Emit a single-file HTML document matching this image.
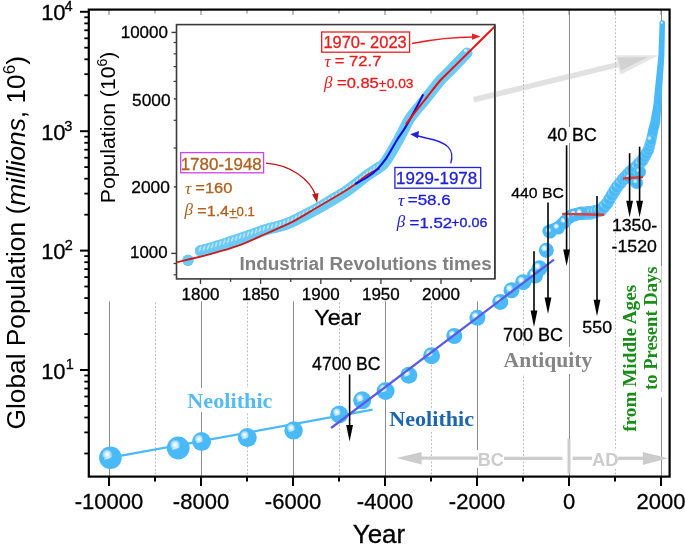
<!DOCTYPE html><html><head><meta charset="utf-8"><style>html,body{margin:0;padding:0;background:#fff;}svg{display:block;will-change:transform}</style></head><body>
<svg width="685" height="544" viewBox="0 0 685 544">
<defs>
<radialGradient id="hl" cx="0.5" cy="0.5" r="0.5">
<stop offset="0" stop-color="#ffffff"/>
<stop offset="0.18" stop-color="#f4fbff"/>
<stop offset="0.4" stop-color="#cfeefd"/>
<stop offset="0.72" stop-color="#a2dbfa" stop-opacity="0.9"/>
<stop offset="1" stop-color="#4ab9f7" stop-opacity="0"/>
</radialGradient>
</defs>
<rect width="685" height="544" fill="#ffffff"/>
<line x1="109.5" y1="10" x2="109.5" y2="476" stroke="#8c8c8c" stroke-width="1"/>
<line x1="155.5" y1="10" x2="155.5" y2="476" stroke="#c0c0c0" stroke-width="1" stroke-dasharray="2,1.7"/>
<line x1="201.5" y1="10" x2="201.5" y2="476" stroke="#8c8c8c" stroke-width="1"/>
<line x1="247.5" y1="10" x2="247.5" y2="476" stroke="#c0c0c0" stroke-width="1" stroke-dasharray="2,1.7"/>
<line x1="293.5" y1="10" x2="293.5" y2="476" stroke="#8c8c8c" stroke-width="1"/>
<line x1="339.5" y1="10" x2="339.5" y2="476" stroke="#c0c0c0" stroke-width="1" stroke-dasharray="2,1.7"/>
<line x1="385.5" y1="10" x2="385.5" y2="476" stroke="#8c8c8c" stroke-width="1"/>
<line x1="431.5" y1="10" x2="431.5" y2="476" stroke="#c0c0c0" stroke-width="1" stroke-dasharray="2,1.7"/>
<line x1="477.5" y1="10" x2="477.5" y2="476" stroke="#8c8c8c" stroke-width="1"/>
<line x1="523.5" y1="10" x2="523.5" y2="476" stroke="#c0c0c0" stroke-width="1" stroke-dasharray="2,1.7"/>
<line x1="569.5" y1="10" x2="569.5" y2="476" stroke="#8c8c8c" stroke-width="1"/>
<line x1="615.5" y1="10" x2="615.5" y2="476" stroke="#c0c0c0" stroke-width="1" stroke-dasharray="2,1.7"/>
<line x1="661.5" y1="10" x2="661.5" y2="476" stroke="#8c8c8c" stroke-width="1"/>
<rect x="90" y="11" width="410" height="290.3" fill="#ffffff"/>
<rect x="186" y="388" width="88" height="24" fill="#ffffff"/>
<rect x="388" y="409" width="88" height="21" fill="#ffffff"/>
<rect x="502" y="347" width="92" height="27" fill="#ffffff"/>
<rect x="310" y="355" width="72" height="17" fill="#ffffff"/>
<rect x="545" y="127" width="53" height="16" fill="#ffffff"/>
<rect x="476" y="450" width="30" height="18" fill="#ffffff"/>
<rect x="590" y="450" width="30" height="18" fill="#ffffff"/>
<line x1="109.0" y1="10" x2="109.0" y2="15" stroke="#909090" stroke-width="1.2"/>
<line x1="155.0" y1="10" x2="155.0" y2="13.5" stroke="#909090" stroke-width="1.2"/>
<line x1="201.0" y1="10" x2="201.0" y2="15" stroke="#909090" stroke-width="1.2"/>
<line x1="247.0" y1="10" x2="247.0" y2="13.5" stroke="#909090" stroke-width="1.2"/>
<line x1="293.0" y1="10" x2="293.0" y2="15" stroke="#909090" stroke-width="1.2"/>
<line x1="339.0" y1="10" x2="339.0" y2="13.5" stroke="#909090" stroke-width="1.2"/>
<line x1="385.0" y1="10" x2="385.0" y2="15" stroke="#909090" stroke-width="1.2"/>
<line x1="431.0" y1="10" x2="431.0" y2="13.5" stroke="#909090" stroke-width="1.2"/>
<line x1="477.0" y1="10" x2="477.0" y2="15" stroke="#909090" stroke-width="1.2"/>
<line x1="523.0" y1="10" x2="523.0" y2="13.5" stroke="#909090" stroke-width="1.2"/>
<line x1="569.0" y1="10" x2="569.0" y2="15" stroke="#909090" stroke-width="1.2"/>
<line x1="615.0" y1="10" x2="615.0" y2="13.5" stroke="#909090" stroke-width="1.2"/>
<line x1="661.0" y1="10" x2="661.0" y2="15" stroke="#909090" stroke-width="1.2"/>
<line x1="110.4" y1="457.7" x2="372.6" y2="409.7" stroke="#4ab9f7" stroke-width="2.2"/>
<circle cx="110.4" cy="457.7" r="11.3" fill="#4ab9f7"/>
<circle cx="107.2" cy="454.5" r="5.7" fill="url(#hl)"/>
<path d="M104.2,459.1 Q108.1,457.9 111.5,456.3" fill="none" stroke="#d8f1fd" stroke-width="1.36" opacity="0.7"/>
<circle cx="178.2" cy="448.0" r="11.4" fill="#4ab9f7"/>
<circle cx="175.0" cy="444.8" r="5.7" fill="url(#hl)"/>
<path d="M171.9,449.4 Q175.9,448.2 179.3,446.6" fill="none" stroke="#d8f1fd" stroke-width="1.37" opacity="0.7"/>
<circle cx="201.6" cy="441.6" r="9.5" fill="#4ab9f7"/>
<circle cx="198.9" cy="438.9" r="4.8" fill="url(#hl)"/>
<path d="M196.4,442.7 Q199.7,441.8 202.5,440.5" fill="none" stroke="#d8f1fd" stroke-width="1.14" opacity="0.7"/>
<circle cx="247.3" cy="437.6" r="9.5" fill="#4ab9f7"/>
<circle cx="244.6" cy="434.9" r="4.8" fill="url(#hl)"/>
<path d="M242.1,438.7 Q245.4,437.8 248.2,436.5" fill="none" stroke="#d8f1fd" stroke-width="1.14" opacity="0.7"/>
<circle cx="293.6" cy="430.4" r="9.2" fill="#4ab9f7"/>
<circle cx="291.0" cy="427.8" r="4.6" fill="url(#hl)"/>
<path d="M288.5,431.5 Q291.8,430.6 294.5,429.3" fill="none" stroke="#d8f1fd" stroke-width="1.10" opacity="0.7"/>
<circle cx="339.3" cy="414.5" r="9.0" fill="#4ab9f7"/>
<circle cx="336.8" cy="412.0" r="4.5" fill="url(#hl)"/>
<path d="M334.4,415.6 Q337.5,414.7 340.2,413.4" fill="none" stroke="#d8f1fd" stroke-width="1.08" opacity="0.7"/>
<circle cx="362.2" cy="400.3" r="9.0" fill="#4ab9f7"/>
<circle cx="359.7" cy="397.8" r="4.5" fill="url(#hl)"/>
<path d="M357.2,401.4 Q360.4,400.5 363.1,399.2" fill="none" stroke="#d8f1fd" stroke-width="1.08" opacity="0.7"/>
<circle cx="385.6" cy="391.0" r="9.0" fill="#4ab9f7"/>
<circle cx="383.1" cy="388.5" r="4.5" fill="url(#hl)"/>
<path d="M380.7,392.1 Q383.8,391.2 386.5,389.9" fill="none" stroke="#d8f1fd" stroke-width="1.08" opacity="0.7"/>
<circle cx="408.8" cy="375.3" r="8.5" fill="#4ab9f7"/>
<circle cx="406.4" cy="372.9" r="4.2" fill="url(#hl)"/>
<path d="M404.1,376.3 Q407.1,375.5 409.7,374.3" fill="none" stroke="#d8f1fd" stroke-width="1.02" opacity="0.7"/>
<circle cx="431.6" cy="355.7" r="8.5" fill="#4ab9f7"/>
<circle cx="429.2" cy="353.3" r="4.2" fill="url(#hl)"/>
<path d="M426.9,356.7 Q429.9,355.9 432.5,354.7" fill="none" stroke="#d8f1fd" stroke-width="1.02" opacity="0.7"/>
<circle cx="454.3" cy="336.0" r="8.0" fill="#4ab9f7"/>
<circle cx="452.1" cy="333.8" r="4.0" fill="url(#hl)"/>
<path d="M449.9,337.0 Q452.7,336.2 455.1,335.0" fill="none" stroke="#d8f1fd" stroke-width="0.96" opacity="0.7"/>
<circle cx="477.4" cy="317.8" r="8.0" fill="#4ab9f7"/>
<circle cx="475.2" cy="315.6" r="4.0" fill="url(#hl)"/>
<path d="M473.0,318.8 Q475.8,318.0 478.2,316.8" fill="none" stroke="#d8f1fd" stroke-width="0.96" opacity="0.7"/>
<circle cx="500.3" cy="301.9" r="8.0" fill="#4ab9f7"/>
<circle cx="498.1" cy="299.7" r="4.0" fill="url(#hl)"/>
<path d="M495.9,302.9 Q498.7,302.1 501.1,300.9" fill="none" stroke="#d8f1fd" stroke-width="0.96" opacity="0.7"/>
<circle cx="511.5" cy="290.3" r="8.0" fill="#4ab9f7"/>
<circle cx="509.3" cy="288.1" r="4.0" fill="url(#hl)"/>
<path d="M507.1,291.3 Q509.9,290.5 512.3,289.3" fill="none" stroke="#d8f1fd" stroke-width="0.96" opacity="0.7"/>
<circle cx="523.2" cy="282.2" r="8.0" fill="#4ab9f7"/>
<circle cx="521.0" cy="280.0" r="4.0" fill="url(#hl)"/>
<path d="M518.8,283.2 Q521.6,282.4 524.0,281.2" fill="none" stroke="#d8f1fd" stroke-width="0.96" opacity="0.7"/>
<circle cx="535.0" cy="275.6" r="8.0" fill="#4ab9f7"/>
<circle cx="532.8" cy="273.4" r="4.0" fill="url(#hl)"/>
<path d="M530.6,276.6 Q533.4,275.8 535.8,274.6" fill="none" stroke="#d8f1fd" stroke-width="0.96" opacity="0.7"/>
<circle cx="539.5" cy="268.3" r="8.0" fill="#4ab9f7"/>
<circle cx="537.3" cy="266.1" r="4.0" fill="url(#hl)"/>
<path d="M535.1,269.3 Q537.9,268.5 540.3,267.3" fill="none" stroke="#d8f1fd" stroke-width="0.96" opacity="0.7"/>
<circle cx="546.3" cy="250.2" r="7.5" fill="#4ab9f7"/>
<circle cx="544.2" cy="248.1" r="3.8" fill="url(#hl)"/>
<path d="M542.2,251.1 Q544.8,250.3 547.0,249.3" fill="none" stroke="#d8f1fd" stroke-width="0.90" opacity="0.7"/>
<line x1="331.1" y1="428" x2="554" y2="259.6" stroke="#5a5ae6" stroke-width="2.2"/>
<path d="M550.4,236.6 L560.9,232.6 L568.8,225.5 L574.6,220.4 L581.3,220.0 L592.1,219.5 L604.3,215.6 L611.8,207.0 L617.1,198.1 L621.9,190.5 L627.5,183.4 L634.1,176.4 L640.5,172.2 L647.4,163.5 L653.4,152.2 L656.1,141.2 L658.1,131.1 L660.2,123.1 L661.3,106.4 L662.3,86.2 L664.4,55.7 L665.0,23.2 L659.6,23.0 L658.4,55.3 L655.3,85.6 L653.3,105.6 L650.4,121.5 L648.3,128.9 L646.3,138.8 L643.4,147.8 L637.6,156.5 L631.5,162.8 L625.9,167.6 L618.5,175.6 L612.1,183.5 L606.9,191.9 L602.2,200.0 L597.7,204.4 L589.9,206.1 L579.9,207.0 L569.4,209.6 L560.8,216.5 L554.7,222.4 L546.2,225.4 Z" fill="#4ab9f7"/>
<circle cx="548.3" cy="231.0" r="6.0" fill="#4ab9f7"/>
<circle cx="662.3" cy="23.1" r="2.8" fill="#4ab9f7"/>
<circle cx="636" cy="182" r="6.5" fill="#4ab9f7"/>
<circle cx="661.8" cy="22.6" r="1.2" fill="#ffffff" opacity="0.85"/>
<circle cx="548.3" cy="231.0" r="5.0" fill="#4ab9f7"/>
<circle cx="546.8" cy="229.5" r="2.5" fill="url(#hl)"/>
<circle cx="557.8" cy="227.5" r="5.5" fill="#4ab9f7"/>
<circle cx="556.3" cy="226.0" r="2.8" fill="url(#hl)"/>
<circle cx="565.0" cy="220.5" r="5.5" fill="#4ab9f7"/>
<circle cx="563.5" cy="219.0" r="2.8" fill="url(#hl)"/>
<circle cx="572.0" cy="214.5" r="5.5" fill="#4ab9f7"/>
<circle cx="570.5" cy="213.0" r="2.8" fill="url(#hl)"/>
<circle cx="580.6" cy="212.0" r="5.5" fill="#4ab9f7"/>
<circle cx="579.1" cy="210.5" r="2.8" fill="url(#hl)"/>
<circle cx="589.0" cy="211.5" r="5.5" fill="#4ab9f7"/>
<circle cx="587.5" cy="210.0" r="2.8" fill="url(#hl)"/>
<circle cx="580.6" cy="213.5" r="6.2" fill="#4ab9f7" stroke="#8ad4fa" stroke-width="0.5"/>
<circle cx="578.8" cy="211.7" r="2.6" fill="url(#hl)" opacity="0.8"/>
<circle cx="584.1" cy="213.3" r="6.2" fill="#4ab9f7" stroke="#8ad4fa" stroke-width="0.5"/>
<circle cx="582.3" cy="211.5" r="2.6" fill="url(#hl)" opacity="0.8"/>
<circle cx="587.5" cy="213.0" r="6.2" fill="#4ab9f7" stroke="#8ad4fa" stroke-width="0.5"/>
<circle cx="585.7" cy="211.2" r="2.6" fill="url(#hl)" opacity="0.8"/>
<circle cx="591.0" cy="212.8" r="6.2" fill="#4ab9f7" stroke="#8ad4fa" stroke-width="0.5"/>
<circle cx="589.2" cy="211.0" r="2.6" fill="url(#hl)" opacity="0.8"/>
<circle cx="594.3" cy="211.9" r="6.2" fill="#4ab9f7" stroke="#8ad4fa" stroke-width="0.5"/>
<circle cx="592.5" cy="210.1" r="2.6" fill="url(#hl)" opacity="0.8"/>
<circle cx="597.7" cy="210.9" r="6.2" fill="#4ab9f7" stroke="#8ad4fa" stroke-width="0.5"/>
<circle cx="595.9" cy="209.1" r="2.6" fill="url(#hl)" opacity="0.8"/>
<circle cx="601.0" cy="210.0" r="6.2" fill="#4ab9f7" stroke="#8ad4fa" stroke-width="0.5"/>
<circle cx="599.2" cy="208.2" r="2.6" fill="url(#hl)" opacity="0.8"/>
<circle cx="604.0" cy="206.8" r="6.2" fill="#4ab9f7" stroke="#8ad4fa" stroke-width="0.5"/>
<circle cx="602.2" cy="204.9" r="2.6" fill="url(#hl)" opacity="0.8"/>
<circle cx="607.0" cy="203.5" r="6.0" fill="#4ab9f7" stroke="#8ad4fa" stroke-width="0.5"/>
<circle cx="605.2" cy="201.7" r="2.6" fill="url(#hl)" opacity="0.8"/>
<circle cx="609.5" cy="199.2" r="6.0" fill="#4ab9f7" stroke="#8ad4fa" stroke-width="0.5"/>
<circle cx="607.7" cy="197.4" r="2.6" fill="url(#hl)" opacity="0.8"/>
<circle cx="612.0" cy="195.0" r="6.0" fill="#4ab9f7" stroke="#8ad4fa" stroke-width="0.5"/>
<circle cx="610.2" cy="193.2" r="2.6" fill="url(#hl)" opacity="0.8"/>
<circle cx="614.5" cy="191.0" r="6.0" fill="#4ab9f7" stroke="#8ad4fa" stroke-width="0.5"/>
<circle cx="612.7" cy="189.2" r="2.6" fill="url(#hl)" opacity="0.8"/>
<circle cx="617.0" cy="187.0" r="6.0" fill="#4ab9f7" stroke="#8ad4fa" stroke-width="0.5"/>
<circle cx="615.2" cy="185.2" r="2.6" fill="url(#hl)" opacity="0.8"/>
<circle cx="620.0" cy="183.2" r="6.0" fill="#4ab9f7" stroke="#8ad4fa" stroke-width="0.5"/>
<circle cx="618.2" cy="181.4" r="2.6" fill="url(#hl)" opacity="0.8"/>
<circle cx="623.0" cy="179.5" r="6.0" fill="#4ab9f7" stroke="#8ad4fa" stroke-width="0.5"/>
<circle cx="621.2" cy="177.7" r="2.6" fill="url(#hl)" opacity="0.8"/>
<circle cx="625.3" cy="177.0" r="6.0" fill="#4ab9f7" stroke="#8ad4fa" stroke-width="0.5"/>
<circle cx="623.5" cy="175.2" r="2.6" fill="url(#hl)" opacity="0.8"/>
<circle cx="627.7" cy="174.5" r="6.0" fill="#4ab9f7" stroke="#8ad4fa" stroke-width="0.5"/>
<circle cx="625.9" cy="172.7" r="2.6" fill="url(#hl)" opacity="0.8"/>
<circle cx="630.0" cy="172.0" r="6.0" fill="#4ab9f7" stroke="#8ad4fa" stroke-width="0.5"/>
<circle cx="628.2" cy="170.2" r="2.6" fill="url(#hl)" opacity="0.8"/>
<circle cx="633.0" cy="169.8" r="6.2" fill="#4ab9f7" stroke="#8ad4fa" stroke-width="0.5"/>
<circle cx="631.2" cy="167.9" r="2.6" fill="url(#hl)" opacity="0.8"/>
<circle cx="636.0" cy="167.5" r="6.2" fill="#4ab9f7" stroke="#8ad4fa" stroke-width="0.5"/>
<circle cx="634.2" cy="165.7" r="2.6" fill="url(#hl)" opacity="0.8"/>
<circle cx="639.2" cy="163.8" r="6.2" fill="#4ab9f7" stroke="#8ad4fa" stroke-width="0.5"/>
<circle cx="637.5" cy="161.9" r="2.6" fill="url(#hl)" opacity="0.8"/>
<circle cx="642.5" cy="160.0" r="6.0" fill="#4ab9f7" stroke="#8ad4fa" stroke-width="0.5"/>
<circle cx="640.7" cy="158.2" r="2.6" fill="url(#hl)" opacity="0.8"/>
<circle cx="644.5" cy="156.7" r="5.8" fill="#4ab9f7" stroke="#8ad4fa" stroke-width="0.5"/>
<circle cx="642.7" cy="154.9" r="2.6" fill="url(#hl)" opacity="0.8"/>
<circle cx="646.4" cy="153.3" r="5.7" fill="#4ab9f7" stroke="#8ad4fa" stroke-width="0.5"/>
<circle cx="644.6" cy="151.5" r="2.6" fill="url(#hl)" opacity="0.8"/>
<circle cx="648.4" cy="150.0" r="5.5" fill="#4ab9f7" stroke="#8ad4fa" stroke-width="0.5"/>
<circle cx="646.6" cy="148.2" r="2.6" fill="url(#hl)" opacity="0.8"/>
<circle cx="649.3" cy="146.7" r="5.3" fill="#4ab9f7" stroke="#8ad4fa" stroke-width="0.5"/>
<circle cx="647.5" cy="144.9" r="2.6" fill="url(#hl)" opacity="0.8"/>
<circle cx="650.3" cy="143.3" r="5.2" fill="#4ab9f7" stroke="#8ad4fa" stroke-width="0.5"/>
<circle cx="648.5" cy="141.5" r="2.6" fill="url(#hl)" opacity="0.8"/>
<circle cx="651.2" cy="140.0" r="5.0" fill="#4ab9f7" stroke="#8ad4fa" stroke-width="0.5"/>
<circle cx="649.4" cy="138.2" r="2.6" fill="url(#hl)" opacity="0.8"/>
<circle cx="630.0" cy="178.0" r="6.0" fill="#4ab9f7" stroke="#8ad4fa" stroke-width="0.5"/>
<circle cx="628.2" cy="176.2" r="2.6" fill="url(#hl)" opacity="0.8"/>
<circle cx="637.0" cy="183.0" r="6.0" fill="#4ab9f7" stroke="#8ad4fa" stroke-width="0.5"/>
<circle cx="635.2" cy="181.2" r="2.6" fill="url(#hl)" opacity="0.8"/>
<circle cx="640.0" cy="172.0" r="6.0" fill="#4ab9f7" stroke="#8ad4fa" stroke-width="0.5"/>
<circle cx="638.2" cy="170.2" r="2.6" fill="url(#hl)" opacity="0.8"/>
<circle cx="550.0" cy="232.0" r="6.6" fill="#4ab9f7"/>
<circle cx="548.2" cy="230.2" r="3.3" fill="url(#hl)"/>
<circle cx="558.0" cy="228.0" r="6.6" fill="#4ab9f7"/>
<circle cx="556.2" cy="226.2" r="3.3" fill="url(#hl)"/>
<circle cx="565.0" cy="222.0" r="6.4" fill="#4ab9f7"/>
<circle cx="563.2" cy="220.2" r="3.2" fill="url(#hl)"/>
<circle cx="570.0" cy="217.0" r="6.4" fill="#4ab9f7"/>
<circle cx="568.2" cy="215.2" r="3.2" fill="url(#hl)"/>
<circle cx="575.0" cy="215.0" r="6.4" fill="#4ab9f7"/>
<circle cx="573.2" cy="213.2" r="3.2" fill="url(#hl)"/>
<circle cx="580.9" cy="213.5" r="6.4" fill="#4ab9f7"/>
<circle cx="579.1" cy="211.7" r="3.2" fill="url(#hl)"/>
<line x1="562.2" y1="213.9" x2="604.2" y2="214.8" stroke="#dd3c3c" stroke-width="2.4"/>
<line x1="623" y1="178.5" x2="643" y2="177" stroke="#dd3c3c" stroke-width="2.4"/>
<line x1="349.6" y1="374.4" x2="349.6" y2="427.0" stroke="#000" stroke-width="1.6"/>
<path d="M346.20000000000005,425.0 L353.0,425.0 L349.6,441.5 Z" fill="#000"/>
<line x1="534" y1="251.2" x2="534" y2="312.5" stroke="#000" stroke-width="1.6"/>
<path d="M530.6,310.5 L537.4,310.5 L534,327.0 Z" fill="#000"/>
<line x1="548" y1="202.4" x2="548" y2="299.5" stroke="#000" stroke-width="1.6"/>
<path d="M544.6,297.5 L551.4,297.5 L548,314.0 Z" fill="#000"/>
<line x1="566.6" y1="145.3" x2="566.6" y2="251.39999999999998" stroke="#000" stroke-width="1.6"/>
<path d="M563.2,249.39999999999998 L570.0,249.39999999999998 L566.6,265.9 Z" fill="#000"/>
<line x1="597" y1="196" x2="597" y2="301.8" stroke="#000" stroke-width="1.6"/>
<path d="M593.6,299.8 L600.4,299.8 L597,316.3 Z" fill="#000"/>
<line x1="629.6" y1="153.2" x2="629.6" y2="202.7" stroke="#000" stroke-width="1.6"/>
<path d="M626.2,200.7 L633.0,200.7 L629.6,217.2 Z" fill="#000"/>
<line x1="639.6" y1="146.7" x2="639.6" y2="202.7" stroke="#000" stroke-width="1.6"/>
<path d="M636.2,200.7 L643.0,200.7 L639.6,217.2 Z" fill="#000"/>
<line x1="420" y1="458.1" x2="478" y2="458.1" stroke="#cccccc" stroke-width="3.3"/>
<path d="M396.4,458.1 L421.6,451.9 L421.6,464.4 Z" fill="#cccccc"/>
<line x1="504" y1="458.3" x2="562.4" y2="458.3" stroke="#cccccc" stroke-width="3.3"/>
<line x1="569" y1="438.8" x2="569" y2="473.8" stroke="#cccccc" stroke-width="3"/>
<line x1="572.7" y1="458.3" x2="592" y2="458.3" stroke="#cccccc" stroke-width="3.3"/>
<line x1="618" y1="458.3" x2="644" y2="458.3" stroke="#cccccc" stroke-width="3.3"/>
<path d="M668,458.3 L642.8,451.9 L642.8,465 Z" fill="#cccccc"/>
<rect x="88.8" y="9.6" width="580.8" height="467" fill="none" stroke="#000" stroke-width="2.2"/>
<line x1="84.3" y1="453.5" x2="89" y2="453.5" stroke="#000" stroke-width="1.8"/>
<line x1="84.3" y1="432.4" x2="89" y2="432.4" stroke="#000" stroke-width="1.8"/>
<line x1="84.3" y1="417.5" x2="89" y2="417.5" stroke="#000" stroke-width="1.8"/>
<line x1="84.3" y1="405.9" x2="89" y2="405.9" stroke="#000" stroke-width="1.8"/>
<line x1="84.3" y1="396.5" x2="89" y2="396.5" stroke="#000" stroke-width="1.8"/>
<line x1="84.3" y1="388.5" x2="89" y2="388.5" stroke="#000" stroke-width="1.8"/>
<line x1="84.3" y1="381.6" x2="89" y2="381.6" stroke="#000" stroke-width="1.8"/>
<line x1="84.3" y1="375.5" x2="89" y2="375.5" stroke="#000" stroke-width="1.8"/>
<line x1="80" y1="370.0" x2="89" y2="370.0" stroke="#000" stroke-width="2"/>
<line x1="84.3" y1="334.1" x2="89" y2="334.1" stroke="#000" stroke-width="1.8"/>
<line x1="84.3" y1="313.0" x2="89" y2="313.0" stroke="#000" stroke-width="1.8"/>
<line x1="84.3" y1="298.1" x2="89" y2="298.1" stroke="#000" stroke-width="1.8"/>
<line x1="84.3" y1="286.5" x2="89" y2="286.5" stroke="#000" stroke-width="1.8"/>
<line x1="84.3" y1="277.1" x2="89" y2="277.1" stroke="#000" stroke-width="1.8"/>
<line x1="84.3" y1="269.1" x2="89" y2="269.1" stroke="#000" stroke-width="1.8"/>
<line x1="84.3" y1="262.2" x2="89" y2="262.2" stroke="#000" stroke-width="1.8"/>
<line x1="84.3" y1="256.1" x2="89" y2="256.1" stroke="#000" stroke-width="1.8"/>
<line x1="80" y1="250.6" x2="89" y2="250.6" stroke="#000" stroke-width="2"/>
<line x1="84.3" y1="214.7" x2="89" y2="214.7" stroke="#000" stroke-width="1.8"/>
<line x1="84.3" y1="193.6" x2="89" y2="193.6" stroke="#000" stroke-width="1.8"/>
<line x1="84.3" y1="178.7" x2="89" y2="178.7" stroke="#000" stroke-width="1.8"/>
<line x1="84.3" y1="167.1" x2="89" y2="167.1" stroke="#000" stroke-width="1.8"/>
<line x1="84.3" y1="157.7" x2="89" y2="157.7" stroke="#000" stroke-width="1.8"/>
<line x1="84.3" y1="149.7" x2="89" y2="149.7" stroke="#000" stroke-width="1.8"/>
<line x1="84.3" y1="142.8" x2="89" y2="142.8" stroke="#000" stroke-width="1.8"/>
<line x1="84.3" y1="136.7" x2="89" y2="136.7" stroke="#000" stroke-width="1.8"/>
<line x1="80" y1="131.2" x2="89" y2="131.2" stroke="#000" stroke-width="2"/>
<line x1="84.3" y1="95.3" x2="89" y2="95.3" stroke="#000" stroke-width="1.8"/>
<line x1="84.3" y1="74.2" x2="89" y2="74.2" stroke="#000" stroke-width="1.8"/>
<line x1="84.3" y1="59.3" x2="89" y2="59.3" stroke="#000" stroke-width="1.8"/>
<line x1="84.3" y1="47.7" x2="89" y2="47.7" stroke="#000" stroke-width="1.8"/>
<line x1="84.3" y1="38.3" x2="89" y2="38.3" stroke="#000" stroke-width="1.8"/>
<line x1="84.3" y1="30.3" x2="89" y2="30.3" stroke="#000" stroke-width="1.8"/>
<line x1="84.3" y1="23.4" x2="89" y2="23.4" stroke="#000" stroke-width="1.8"/>
<line x1="84.3" y1="17.3" x2="89" y2="17.3" stroke="#000" stroke-width="1.8"/>
<line x1="80" y1="11.8" x2="89" y2="11.8" stroke="#000" stroke-width="2"/>
<line x1="109.0" y1="476.6" x2="109.0" y2="486.1" stroke="#000" stroke-width="2"/>
<line x1="155.0" y1="476.6" x2="155.0" y2="481.6" stroke="#000" stroke-width="2"/>
<line x1="201.0" y1="476.6" x2="201.0" y2="486.1" stroke="#000" stroke-width="2"/>
<line x1="247.0" y1="476.6" x2="247.0" y2="481.6" stroke="#000" stroke-width="2"/>
<line x1="293.0" y1="476.6" x2="293.0" y2="486.1" stroke="#000" stroke-width="2"/>
<line x1="339.0" y1="476.6" x2="339.0" y2="481.6" stroke="#000" stroke-width="2"/>
<line x1="385.0" y1="476.6" x2="385.0" y2="486.1" stroke="#000" stroke-width="2"/>
<line x1="431.0" y1="476.6" x2="431.0" y2="481.6" stroke="#000" stroke-width="2"/>
<line x1="477.0" y1="476.6" x2="477.0" y2="486.1" stroke="#000" stroke-width="2"/>
<line x1="523.0" y1="476.6" x2="523.0" y2="481.6" stroke="#000" stroke-width="2"/>
<line x1="569.0" y1="476.6" x2="569.0" y2="486.1" stroke="#000" stroke-width="2"/>
<line x1="615.0" y1="476.6" x2="615.0" y2="481.6" stroke="#000" stroke-width="2"/>
<line x1="661.0" y1="476.6" x2="661.0" y2="486.1" stroke="#000" stroke-width="2"/>
<rect x="176.5" y="24.6" width="318.3" height="254.3" fill="#fff" stroke="#3a3a3a" stroke-width="1.6"/>
<line x1="171.5" y1="32.4" x2="176.5" y2="32.4" stroke="#3a3a3a" stroke-width="1.4"/>
<line x1="173.9" y1="98.9" x2="176.5" y2="98.9" stroke="#3a3a3a" stroke-width="1.4"/>
<line x1="173.9" y1="186.9" x2="176.5" y2="186.9" stroke="#3a3a3a" stroke-width="1.4"/>
<line x1="171.2" y1="253.4" x2="176.5" y2="253.4" stroke="#3a3a3a" stroke-width="1.4"/>
<line x1="173.6" y1="42.5" x2="176.5" y2="42.5" stroke="#3a3a3a" stroke-width="1.2"/>
<line x1="173.6" y1="53.8" x2="176.5" y2="53.8" stroke="#3a3a3a" stroke-width="1.2"/>
<line x1="173.6" y1="66.6" x2="176.5" y2="66.6" stroke="#3a3a3a" stroke-width="1.2"/>
<line x1="173.6" y1="81.4" x2="176.5" y2="81.4" stroke="#3a3a3a" stroke-width="1.2"/>
<line x1="173.6" y1="120.3" x2="176.5" y2="120.3" stroke="#3a3a3a" stroke-width="1.2"/>
<line x1="173.6" y1="148.0" x2="176.5" y2="148.0" stroke="#3a3a3a" stroke-width="1.2"/>
<line x1="173.6" y1="263.5" x2="176.5" y2="263.5" stroke="#3a3a3a" stroke-width="1.2"/>
<line x1="173.6" y1="274.8" x2="176.5" y2="274.8" stroke="#3a3a3a" stroke-width="1.2"/>
<line x1="200.5" y1="278.9" x2="200.5" y2="283.9" stroke="#3a3a3a" stroke-width="1.3"/>
<line x1="230.6" y1="278.9" x2="230.6" y2="281.9" stroke="#3a3a3a" stroke-width="1.3"/>
<line x1="260.6" y1="278.9" x2="260.6" y2="283.9" stroke="#3a3a3a" stroke-width="1.3"/>
<line x1="290.7" y1="278.9" x2="290.7" y2="281.9" stroke="#3a3a3a" stroke-width="1.3"/>
<line x1="320.8" y1="278.9" x2="320.8" y2="283.9" stroke="#3a3a3a" stroke-width="1.3"/>
<line x1="350.8" y1="278.9" x2="350.8" y2="281.9" stroke="#3a3a3a" stroke-width="1.3"/>
<line x1="380.9" y1="278.9" x2="380.9" y2="283.9" stroke="#3a3a3a" stroke-width="1.3"/>
<line x1="410.9" y1="278.9" x2="410.9" y2="281.9" stroke="#3a3a3a" stroke-width="1.3"/>
<line x1="441.0" y1="278.9" x2="441.0" y2="283.9" stroke="#3a3a3a" stroke-width="1.3"/>
<line x1="471.1" y1="278.9" x2="471.1" y2="281.9" stroke="#3a3a3a" stroke-width="1.3"/>
<path d="M200.5,251.0 C201.9,250.7 202.9,250.9 209.2,249.0 C215.5,247.1 228.7,242.8 238.4,239.5 C248.1,236.2 260.7,231.5 267.6,229.3 C274.5,227.1 275.9,227.5 280.0,226.3 C284.1,225.1 285.7,224.9 291.9,222.0 C298.1,219.1 308.2,213.9 317.1,209.0 C326.0,204.1 338.7,196.3 345.0,192.3 C351.3,188.3 350.9,188.0 354.7,185.2 C358.5,182.3 363.5,178.1 367.6,175.2 C371.7,172.2 376.4,169.9 379.5,167.5 C382.6,165.1 382.9,165.6 386.0,161.0 C389.1,156.4 394.6,146.8 398.4,140.0 C402.2,133.2 405.9,124.9 408.8,120.0 C411.7,115.1 413.6,113.6 416.0,110.5 C418.4,107.4 421.0,104.6 423.5,101.5 C426.0,98.4 428.1,95.7 431.0,92.0 C433.9,88.3 437.8,83.2 441.1,79.5 C444.5,75.8 446.8,74.0 451.1,69.6 C455.4,65.2 464.4,55.9 467.0,53.1" fill="none" stroke="#6ccaf5" stroke-width="11" stroke-linecap="round" stroke-linejoin="round"/>
<circle cx="200.5" cy="250.5" r="5.6" fill="#6ccaf5"/>
<circle cx="204.0" cy="249.7" r="5.6" fill="#6ccaf5"/>
<circle cx="207.5" cy="248.9" r="5.6" fill="#6ccaf5"/>
<circle cx="211.0" cy="247.9" r="5.6" fill="#6ccaf5"/>
<circle cx="214.4" cy="246.8" r="5.6" fill="#6ccaf5"/>
<circle cx="217.8" cy="245.7" r="5.6" fill="#6ccaf5"/>
<circle cx="221.3" cy="244.6" r="5.6" fill="#6ccaf5"/>
<circle cx="224.7" cy="243.5" r="5.6" fill="#6ccaf5"/>
<circle cx="228.1" cy="242.4" r="5.6" fill="#6ccaf5"/>
<circle cx="231.5" cy="241.2" r="5.6" fill="#6ccaf5"/>
<circle cx="234.9" cy="240.1" r="5.6" fill="#6ccaf5"/>
<circle cx="238.4" cy="239.0" r="5.6" fill="#6ccaf5"/>
<circle cx="241.8" cy="237.8" r="5.6" fill="#6ccaf5"/>
<circle cx="245.2" cy="236.6" r="5.6" fill="#6ccaf5"/>
<circle cx="248.6" cy="235.4" r="5.6" fill="#6ccaf5"/>
<circle cx="252.0" cy="234.3" r="5.6" fill="#6ccaf5"/>
<circle cx="255.4" cy="233.1" r="5.6" fill="#6ccaf5"/>
<circle cx="258.8" cy="231.9" r="5.6" fill="#6ccaf5"/>
<circle cx="262.2" cy="230.7" r="5.6" fill="#6ccaf5"/>
<circle cx="265.6" cy="229.5" r="5.6" fill="#6ccaf5"/>
<circle cx="269.0" cy="228.5" r="5.6" fill="#6ccaf5"/>
<circle cx="272.5" cy="227.6" r="5.6" fill="#6ccaf5"/>
<circle cx="276.0" cy="226.8" r="5.6" fill="#6ccaf5"/>
<circle cx="279.5" cy="225.9" r="5.6" fill="#6ccaf5"/>
<circle cx="282.9" cy="224.8" r="5.6" fill="#6ccaf5"/>
<circle cx="286.3" cy="223.5" r="5.6" fill="#6ccaf5"/>
<circle cx="289.7" cy="222.3" r="5.6" fill="#6ccaf5"/>
<circle cx="293.0" cy="220.9" r="5.6" fill="#6ccaf5"/>
<circle cx="296.2" cy="219.3" r="5.6" fill="#6ccaf5"/>
<circle cx="299.4" cy="217.6" r="5.6" fill="#6ccaf5"/>
<circle cx="302.6" cy="216.0" r="5.6" fill="#6ccaf5"/>
<circle cx="305.8" cy="214.3" r="5.6" fill="#6ccaf5"/>
<circle cx="309.0" cy="212.7" r="5.6" fill="#6ccaf5"/>
<circle cx="312.2" cy="211.0" r="5.6" fill="#6ccaf5"/>
<circle cx="315.4" cy="209.4" r="5.6" fill="#6ccaf5"/>
<circle cx="318.5" cy="207.6" r="5.6" fill="#6ccaf5"/>
<circle cx="321.6" cy="205.8" r="5.6" fill="#6ccaf5"/>
<circle cx="324.7" cy="203.9" r="5.6" fill="#6ccaf5"/>
<circle cx="327.8" cy="202.1" r="5.6" fill="#6ccaf5"/>
<circle cx="330.9" cy="200.2" r="5.6" fill="#6ccaf5"/>
<circle cx="334.0" cy="198.4" r="5.6" fill="#6ccaf5"/>
<circle cx="337.1" cy="196.5" r="5.6" fill="#6ccaf5"/>
<circle cx="340.2" cy="194.7" r="5.6" fill="#6ccaf5"/>
<circle cx="343.2" cy="192.9" r="5.6" fill="#6ccaf5"/>
<circle cx="346.3" cy="190.9" r="5.6" fill="#6ccaf5"/>
<circle cx="349.2" cy="188.8" r="5.6" fill="#6ccaf5"/>
<circle cx="352.1" cy="186.6" r="5.6" fill="#6ccaf5"/>
<circle cx="355.0" cy="184.5" r="5.6" fill="#6ccaf5"/>
<circle cx="357.8" cy="182.3" r="5.6" fill="#6ccaf5"/>
<circle cx="360.7" cy="180.1" r="5.6" fill="#6ccaf5"/>
<circle cx="363.5" cy="177.9" r="5.6" fill="#6ccaf5"/>
<circle cx="366.3" cy="175.7" r="5.6" fill="#6ccaf5"/>
<circle cx="369.3" cy="173.6" r="5.6" fill="#6ccaf5"/>
<circle cx="372.3" cy="171.7" r="5.6" fill="#6ccaf5"/>
<circle cx="375.3" cy="169.7" r="5.6" fill="#6ccaf5"/>
<circle cx="378.4" cy="167.7" r="5.6" fill="#6ccaf5"/>
<circle cx="188" cy="260.3" r="5.8" fill="#6ccaf5"/>
<circle cx="465.5" cy="50.5" r="1.6" fill="#ffffff" opacity="0.7"/>
<ellipse cx="200.0" cy="249.0" rx="0.9" ry="2.8" transform="rotate(20 200.0 249.0)" fill="#ffffff" opacity="0.5"/>
<ellipse cx="204.1" cy="248.1" rx="0.9" ry="2.8" transform="rotate(20 204.1 248.1)" fill="#ffffff" opacity="0.5"/>
<ellipse cx="208.2" cy="247.1" rx="0.9" ry="2.8" transform="rotate(20 208.2 247.1)" fill="#ffffff" opacity="0.5"/>
<ellipse cx="212.2" cy="245.9" rx="0.9" ry="2.8" transform="rotate(20 212.2 245.9)" fill="#ffffff" opacity="0.5"/>
<ellipse cx="216.2" cy="244.6" rx="0.9" ry="2.8" transform="rotate(20 216.2 244.6)" fill="#ffffff" opacity="0.5"/>
<ellipse cx="220.2" cy="243.3" rx="0.9" ry="2.8" transform="rotate(20 220.2 243.3)" fill="#ffffff" opacity="0.5"/>
<ellipse cx="224.2" cy="242.0" rx="0.9" ry="2.8" transform="rotate(20 224.2 242.0)" fill="#ffffff" opacity="0.5"/>
<ellipse cx="228.2" cy="240.7" rx="0.9" ry="2.8" transform="rotate(20 228.2 240.7)" fill="#ffffff" opacity="0.5"/>
<ellipse cx="232.2" cy="239.4" rx="0.9" ry="2.8" transform="rotate(20 232.2 239.4)" fill="#ffffff" opacity="0.5"/>
<ellipse cx="236.2" cy="238.1" rx="0.9" ry="2.8" transform="rotate(20 236.2 238.1)" fill="#ffffff" opacity="0.5"/>
<ellipse cx="240.1" cy="236.7" rx="0.9" ry="2.8" transform="rotate(20 240.1 236.7)" fill="#ffffff" opacity="0.5"/>
<ellipse cx="244.1" cy="235.3" rx="0.9" ry="2.8" transform="rotate(20 244.1 235.3)" fill="#ffffff" opacity="0.5"/>
<ellipse cx="248.1" cy="233.9" rx="0.9" ry="2.8" transform="rotate(20 248.1 233.9)" fill="#ffffff" opacity="0.5"/>
<ellipse cx="252.0" cy="232.6" rx="0.9" ry="2.8" transform="rotate(20 252.0 232.6)" fill="#ffffff" opacity="0.5"/>
<ellipse cx="256.0" cy="231.2" rx="0.9" ry="2.8" transform="rotate(20 256.0 231.2)" fill="#ffffff" opacity="0.5"/>
<ellipse cx="260.0" cy="229.8" rx="0.9" ry="2.8" transform="rotate(20 260.0 229.8)" fill="#ffffff" opacity="0.5"/>
<ellipse cx="263.9" cy="228.4" rx="0.9" ry="2.8" transform="rotate(20 263.9 228.4)" fill="#ffffff" opacity="0.5"/>
<ellipse cx="267.9" cy="227.1" rx="0.9" ry="2.8" transform="rotate(20 267.9 227.1)" fill="#ffffff" opacity="0.5"/>
<ellipse cx="272.0" cy="226.1" rx="0.9" ry="2.8" transform="rotate(20 272.0 226.1)" fill="#ffffff" opacity="0.5"/>
<ellipse cx="276.1" cy="225.1" rx="0.9" ry="2.8" transform="rotate(20 276.1 225.1)" fill="#ffffff" opacity="0.5"/>
<ellipse cx="280.1" cy="224.1" rx="0.9" ry="2.8" transform="rotate(20 280.1 224.1)" fill="#ffffff" opacity="0.5"/>
<ellipse cx="284.1" cy="222.6" rx="0.9" ry="2.8" transform="rotate(20 284.1 222.6)" fill="#ffffff" opacity="0.5"/>
<ellipse cx="288.0" cy="221.2" rx="0.9" ry="2.8" transform="rotate(20 288.0 221.2)" fill="#ffffff" opacity="0.5"/>
<ellipse cx="292.0" cy="219.7" rx="0.9" ry="2.8" transform="rotate(20 292.0 219.7)" fill="#ffffff" opacity="0.5"/>
<ellipse cx="295.7" cy="217.8" rx="0.9" ry="2.8" transform="rotate(20 295.7 217.8)" fill="#ffffff" opacity="0.5"/>
<ellipse cx="299.4" cy="215.9" rx="0.9" ry="2.8" transform="rotate(20 299.4 215.9)" fill="#ffffff" opacity="0.5"/>
<ellipse cx="303.2" cy="213.9" rx="0.9" ry="2.8" transform="rotate(20 303.2 213.9)" fill="#ffffff" opacity="0.5"/>
<ellipse cx="306.9" cy="212.0" rx="0.9" ry="2.8" transform="rotate(20 306.9 212.0)" fill="#ffffff" opacity="0.5"/>
<ellipse cx="310.6" cy="210.1" rx="0.9" ry="2.8" transform="rotate(20 310.6 210.1)" fill="#ffffff" opacity="0.5"/>
<ellipse cx="314.4" cy="208.2" rx="0.9" ry="2.8" transform="rotate(20 314.4 208.2)" fill="#ffffff" opacity="0.5"/>
<ellipse cx="318.0" cy="206.1" rx="0.9" ry="2.8" transform="rotate(20 318.0 206.1)" fill="#ffffff" opacity="0.5"/>
<ellipse cx="321.6" cy="204.0" rx="0.9" ry="2.8" transform="rotate(20 321.6 204.0)" fill="#ffffff" opacity="0.5"/>
<ellipse cx="325.2" cy="201.8" rx="0.9" ry="2.8" transform="rotate(20 325.2 201.8)" fill="#ffffff" opacity="0.5"/>
<ellipse cx="328.8" cy="199.7" rx="0.9" ry="2.8" transform="rotate(20 328.8 199.7)" fill="#ffffff" opacity="0.5"/>
<ellipse cx="332.4" cy="197.5" rx="0.9" ry="2.8" transform="rotate(20 332.4 197.5)" fill="#ffffff" opacity="0.5"/>
<ellipse cx="336.1" cy="195.4" rx="0.9" ry="2.8" transform="rotate(20 336.1 195.4)" fill="#ffffff" opacity="0.5"/>
<ellipse cx="339.7" cy="193.2" rx="0.9" ry="2.8" transform="rotate(20 339.7 193.2)" fill="#ffffff" opacity="0.5"/>
<ellipse cx="343.3" cy="191.0" rx="0.9" ry="2.8" transform="rotate(20 343.3 191.0)" fill="#ffffff" opacity="0.5"/>
<ellipse cx="346.7" cy="188.7" rx="0.9" ry="2.8" transform="rotate(20 346.7 188.7)" fill="#ffffff" opacity="0.5"/>
<ellipse cx="350.1" cy="186.2" rx="0.9" ry="2.8" transform="rotate(20 350.1 186.2)" fill="#ffffff" opacity="0.5"/>
<ellipse cx="353.5" cy="183.7" rx="0.9" ry="2.8" transform="rotate(20 353.5 183.7)" fill="#ffffff" opacity="0.5"/>
<ellipse cx="356.8" cy="181.2" rx="0.9" ry="2.8" transform="rotate(20 356.8 181.2)" fill="#ffffff" opacity="0.5"/>
<ellipse cx="360.2" cy="178.6" rx="0.9" ry="2.8" transform="rotate(20 360.2 178.6)" fill="#ffffff" opacity="0.5"/>
<ellipse cx="363.5" cy="176.0" rx="0.9" ry="2.8" transform="rotate(20 363.5 176.0)" fill="#ffffff" opacity="0.5"/>
<ellipse cx="366.8" cy="173.4" rx="0.9" ry="2.8" transform="rotate(20 366.8 173.4)" fill="#ffffff" opacity="0.5"/>
<ellipse cx="370.3" cy="171.1" rx="0.9" ry="2.8" transform="rotate(20 370.3 171.1)" fill="#ffffff" opacity="0.5"/>
<ellipse cx="373.8" cy="168.8" rx="0.9" ry="2.8" transform="rotate(20 373.8 168.8)" fill="#ffffff" opacity="0.5"/>
<ellipse cx="377.4" cy="166.6" rx="0.9" ry="2.8" transform="rotate(20 377.4 166.6)" fill="#ffffff" opacity="0.5"/>
<path d="M176.5,262.3 C181.9,261.0 198.9,257.2 209.2,254.4 C219.5,251.6 228.7,249.3 238.4,245.7 C248.1,242.1 258.7,236.9 267.6,233.0 C276.5,229.1 283.6,226.4 291.9,222.2 C300.1,217.9 308.2,212.7 317.1,207.5 C326.0,202.3 338.7,194.8 345.0,191.0 C351.3,187.2 350.9,187.1 354.7,184.4 C358.5,181.7 363.5,177.5 367.6,174.8 C371.7,172.1 377.5,169.4 379.5,168.3" fill="none" stroke="#c81e1e" stroke-width="1.9"/>
<path d="M355.2,184.0 C357.3,182.8 364.0,179.4 367.6,177.0 C371.2,174.6 373.7,172.8 376.8,169.7 C379.9,166.6 382.6,163.6 386.0,158.7 C389.4,153.8 393.8,145.2 397.0,140.0 C400.2,134.8 402.2,132.6 405.2,127.6 C408.2,122.6 412.1,115.5 415.1,110.0 C418.1,104.5 421.9,97.0 423.2,94.4" fill="none" stroke="#1010dd" stroke-width="2.1"/>
<path d="M405.8,124.3 C407.5,122.1 413.1,114.8 416.0,111.0 C418.9,107.2 421.0,104.7 423.5,101.5 C426.0,98.3 428.1,95.7 431.0,92.0 C433.9,88.3 437.8,83.2 441.1,79.5 C444.5,75.8 446.7,74.0 451.1,69.6 C455.6,65.2 460.6,60.3 467.8,53.1 C475.1,45.9 490.1,31.0 494.6,26.6" fill="none" stroke="#e81010" stroke-width="2"/>
<rect x="180.7" y="152.6" width="82.9" height="20.2" fill="none" stroke="#cc44ee" stroke-width="1.3"/>
<rect x="321.7" y="32" width="87.9" height="20.2" fill="none" stroke="#e82020" stroke-width="1.3"/>
<rect x="394.9" y="167.5" width="85.8" height="20.7" fill="none" stroke="#2222d8" stroke-width="1.3"/>
<path d="M266,163.2 C292,165 310,180 316,196" fill="none" stroke="#c01818" stroke-width="1.3"/>
<path d="M317.1,202.8 L312,194.5 L318.5,193 Z" fill="#c01818"/>
<path d="M412,43.5 C430,40 450,37 474,37" fill="none" stroke="#e82020" stroke-width="1.3"/>
<path d="M480.6,36.6 L472,33.5 L472,39.8 Z" fill="#e82020"/>
<path d="M450.7,163.4 C455,150 448,142 426,138 L416,135.5" fill="none" stroke="#2222d8" stroke-width="1.3"/>
<path d="M410.3,134.3 L419,131 L418,138.5 Z" fill="#2222d8"/>
<line x1="229.8" y1="217.7" x2="237.6" y2="217.7" stroke="#b0601e" stroke-width="1.2"/>
<line x1="379.5" y1="90.4" x2="386.4" y2="90.4" stroke="#e81c1c" stroke-width="1.2"/>
<line x1="473.6" y1="99.8" x2="618" y2="64.6" stroke="#bdbdbd" stroke-width="5.6" opacity="0.45"/>
<path d="M615.3,55.3 L658.7,55.3 L620.4,74.7 Z" fill="#d6d6d6" opacity="0.6"/>
<path d="M617.5,57.5 L648,57 L621,70.5 Z" fill="#bbbbbb" opacity="0.45"/>
<line x1="494.8" y1="24.6" x2="494.8" y2="278.9" stroke="#3a3a3a" stroke-width="1.6"/>
<rect x="641" y="266" width="24" height="126" fill="#ffffff" opacity="0.55"/>
<rect x="641" y="392" width="24" height="5.5" fill="#ffffff"/>
<text x="41.13" y="20.30" font-family="Liberation Sans" font-size="22.00" font-weight="normal" font-style="normal" text-anchor="start" fill="#000" stroke="#000" stroke-width="0.3">10</text>
<text x="41.13" y="139.70" font-family="Liberation Sans" font-size="22.00" font-weight="normal" font-style="normal" text-anchor="start" fill="#000" stroke="#000" stroke-width="0.3">10</text>
<text x="41.13" y="259.10" font-family="Liberation Sans" font-size="22.00" font-weight="normal" font-style="normal" text-anchor="start" fill="#000" stroke="#000" stroke-width="0.3">10</text>
<text x="41.13" y="378.50" font-family="Liberation Sans" font-size="22.00" font-weight="normal" font-style="normal" text-anchor="start" fill="#000" stroke="#000" stroke-width="0.3">10</text>
<text x="64.55" y="10.78" font-family="Liberation Sans" font-size="14.50" font-weight="normal" font-style="normal" text-anchor="start" fill="#000" stroke="#000" stroke-width="0.3">4</text>
<text x="64.14" y="130.93" font-family="Liberation Sans" font-size="14.50" font-weight="normal" font-style="normal" text-anchor="start" fill="#000" stroke="#000" stroke-width="0.3">3</text>
<text x="64.77" y="250.00" font-family="Liberation Sans" font-size="14.50" font-weight="normal" font-style="normal" text-anchor="start" fill="#000" stroke="#000" stroke-width="0.3">2</text>
<text x="65.75" y="368.60" font-family="Liberation Sans" font-size="14.50" font-weight="normal" font-style="normal" text-anchor="start" fill="#000" stroke="#000" stroke-width="0.3">1</text>
<text x="109.00" y="509.00" font-family="Liberation Sans" font-size="22.00" font-weight="normal" font-style="normal" text-anchor="middle" fill="#000" stroke="#000" stroke-width="0.3">-10000</text>
<text x="201.00" y="509.00" font-family="Liberation Sans" font-size="22.00" font-weight="normal" font-style="normal" text-anchor="middle" fill="#000" stroke="#000" stroke-width="0.3">-8000</text>
<text x="293.00" y="509.00" font-family="Liberation Sans" font-size="22.00" font-weight="normal" font-style="normal" text-anchor="middle" fill="#000" stroke="#000" stroke-width="0.3">-6000</text>
<text x="385.00" y="509.00" font-family="Liberation Sans" font-size="22.00" font-weight="normal" font-style="normal" text-anchor="middle" fill="#000" stroke="#000" stroke-width="0.3">-4000</text>
<text x="477.00" y="509.00" font-family="Liberation Sans" font-size="22.00" font-weight="normal" font-style="normal" text-anchor="middle" fill="#000" stroke="#000" stroke-width="0.3">-2000</text>
<text x="569.00" y="509.00" font-family="Liberation Sans" font-size="22.00" font-weight="normal" font-style="normal" text-anchor="middle" fill="#000" stroke="#000" stroke-width="0.3">0</text>
<text x="661.00" y="509.00" font-family="Liberation Sans" font-size="22.00" font-weight="normal" font-style="normal" text-anchor="middle" fill="#000" stroke="#000" stroke-width="0.3">2000</text>
<text x="352.81" y="543.00" font-family="Liberation Sans" font-size="25.00" font-weight="normal" font-style="normal" text-anchor="start" fill="#000" stroke="#000" stroke-width="0.3" textLength="52.32" lengthAdjust="spacingAndGlyphs">Year</text>
<text x="312.11" y="369.50" font-family="Liberation Sans" font-size="18.00" font-weight="normal" font-style="normal" text-anchor="start" fill="#000" stroke="#000" stroke-width="0.3" textLength="68.41" lengthAdjust="spacingAndGlyphs">4700 BC</text>
<text x="503.11" y="340.50" font-family="Liberation Sans" font-size="17.90" font-weight="normal" font-style="normal" text-anchor="start" fill="#000" stroke="#000" stroke-width="0.3" textLength="59.97" lengthAdjust="spacingAndGlyphs">700 BC</text>
<text x="511.27" y="197.50" font-family="Liberation Sans" font-size="15.50" font-weight="normal" font-style="normal" text-anchor="start" fill="#000" stroke="#000" stroke-width="0.3" textLength="52.75" lengthAdjust="spacingAndGlyphs">440 BC</text>
<text x="547.41" y="141.40" font-family="Liberation Sans" font-size="17.90" font-weight="normal" font-style="normal" text-anchor="start" fill="#000" stroke="#000" stroke-width="0.3" textLength="49.39" lengthAdjust="spacingAndGlyphs">40 BC</text>
<text x="611.95" y="230.80" font-family="Liberation Sans" font-size="16.80" font-weight="normal" font-style="normal" text-anchor="start" fill="#000" stroke="#000" stroke-width="0.3" textLength="45.19" lengthAdjust="spacingAndGlyphs">1350-</text>
<text x="611.58" y="252.20" font-family="Liberation Sans" font-size="16.80" font-weight="normal" font-style="normal" text-anchor="start" fill="#000" stroke="#000" stroke-width="0.3" textLength="45.28" lengthAdjust="spacingAndGlyphs">-1520</text>
<text x="582.33" y="332.87" font-family="Liberation Sans" font-size="17.30" font-weight="normal" font-style="normal" text-anchor="start" fill="#000" stroke="#000" stroke-width="0.3" textLength="29.72" lengthAdjust="spacingAndGlyphs">550</text>
<text x="187.33" y="407.60" font-family="Liberation Serif" font-size="20.00" font-weight="bold" font-style="normal" text-anchor="start" fill="#55bbf5" textLength="85.15" lengthAdjust="spacingAndGlyphs">Neolithic</text>
<text x="389.20" y="426.40" font-family="Liberation Serif" font-size="20.00" font-weight="bold" font-style="normal" text-anchor="start" fill="#1d66ad" textLength="84.90" lengthAdjust="spacingAndGlyphs">Neolithic</text>
<text x="503.62" y="366.50" font-family="Liberation Serif" font-size="20.00" font-weight="bold" font-style="normal" text-anchor="start" fill="#858585" textLength="88.70" lengthAdjust="spacingAndGlyphs">Antiquity</text>
<text x="477.87" y="465.80" font-family="Liberation Sans" font-size="17.60" font-weight="bold" font-style="normal" text-anchor="start" fill="#cccccc" textLength="26.02" lengthAdjust="spacingAndGlyphs">BC</text>
<text x="591.98" y="465.80" font-family="Liberation Sans" font-size="17.60" font-weight="bold" font-style="normal" text-anchor="start" fill="#cccccc" textLength="26.58" lengthAdjust="spacingAndGlyphs">AD</text>
<text x="120.72" y="38.00" font-family="Liberation Sans" font-size="17.00" font-weight="normal" font-style="normal" text-anchor="start" fill="#000" stroke="#000" stroke-width="0.3" textLength="47.19" lengthAdjust="spacingAndGlyphs">10000</text>
<text x="132.11" y="106.20" font-family="Liberation Sans" font-size="17.00" font-weight="normal" font-style="normal" text-anchor="start" fill="#000" stroke="#000" stroke-width="0.3" textLength="38.49" lengthAdjust="spacingAndGlyphs">5000</text>
<text x="131.30" y="192.50" font-family="Liberation Sans" font-size="17.00" font-weight="normal" font-style="normal" text-anchor="start" fill="#000" stroke="#000" stroke-width="0.3" textLength="38.61" lengthAdjust="spacingAndGlyphs">2000</text>
<text x="130.02" y="258.00" font-family="Liberation Sans" font-size="17.00" font-weight="normal" font-style="normal" text-anchor="start" fill="#000" stroke="#000" stroke-width="0.3" textLength="37.53" lengthAdjust="spacingAndGlyphs">1000</text>
<text x="200.50" y="300.40" font-family="Liberation Sans" font-size="17.00" font-weight="normal" font-style="normal" text-anchor="middle" fill="#000" stroke="#000" stroke-width="0.3">1800</text>
<text x="260.62" y="300.40" font-family="Liberation Sans" font-size="17.00" font-weight="normal" font-style="normal" text-anchor="middle" fill="#000" stroke="#000" stroke-width="0.3">1850</text>
<text x="320.75" y="300.40" font-family="Liberation Sans" font-size="17.00" font-weight="normal" font-style="normal" text-anchor="middle" fill="#000" stroke="#000" stroke-width="0.3">1900</text>
<text x="380.88" y="300.40" font-family="Liberation Sans" font-size="17.00" font-weight="normal" font-style="normal" text-anchor="middle" fill="#000" stroke="#000" stroke-width="0.3">1950</text>
<text x="441.00" y="300.40" font-family="Liberation Sans" font-size="17.00" font-weight="normal" font-style="normal" text-anchor="middle" fill="#000" stroke="#000" stroke-width="0.3">2000</text>
<text x="314.37" y="324.80" font-family="Liberation Sans" font-size="22.50" font-weight="normal" font-style="normal" text-anchor="start" fill="#000" stroke="#000" stroke-width="0.3" textLength="46.81" lengthAdjust="spacingAndGlyphs">Year</text>
<text x="239.54" y="270.20" font-family="Liberation Sans" font-size="18.00" font-weight="bold" font-style="normal" text-anchor="start" fill="#808080" textLength="252.08" lengthAdjust="spacingAndGlyphs">Industrial Revolutions times</text>
<text x="180.65" y="169.60" font-family="Liberation Sans" font-size="16.50" font-weight="normal" font-style="normal" text-anchor="start" fill="#b0601e" stroke="#b0601e" stroke-width="0.3" textLength="81.19" lengthAdjust="spacingAndGlyphs">1780-1948</text>
<text x="323.39" y="47.80" font-family="Liberation Sans" font-size="16.50" font-weight="normal" font-style="normal" text-anchor="start" fill="#e81c1c" stroke="#e81c1c" stroke-width="0.3" textLength="83.40" lengthAdjust="spacingAndGlyphs">1970- 2023</text>
<text x="396.13" y="184.20" font-family="Liberation Sans" font-size="16.50" font-weight="normal" font-style="normal" text-anchor="start" fill="#2020d8" stroke="#2020d8" stroke-width="0.3" textLength="81.10" lengthAdjust="spacingAndGlyphs">1929-1978</text>
<text x="185.09" y="194.43" font-family="Liberation Serif" font-size="17.50" font-weight="normal" font-style="italic" text-anchor="start" fill="#b0601e">τ</text>
<text x="195.33" y="193.00" font-family="Liberation Sans" font-size="15.20" font-weight="normal" font-style="normal" text-anchor="start" fill="#b0601e" stroke="#b0601e" stroke-width="0.3" textLength="37.07" lengthAdjust="spacingAndGlyphs">=160</text>
<text x="184.42" y="215.39" font-family="Liberation Serif" font-size="17.00" font-weight="normal" font-style="italic" text-anchor="start" fill="#b0601e">β</text>
<text x="197.31" y="215.60" font-family="Liberation Sans" font-size="15.20" font-weight="normal" font-style="normal" text-anchor="start" fill="#b0601e" stroke="#b0601e" stroke-width="0.3" textLength="31.78" lengthAdjust="spacingAndGlyphs">=1.4</text>
<text x="228.97" y="215.60" font-family="Liberation Sans" font-size="13.00" font-weight="normal" font-style="normal" text-anchor="start" fill="#b0601e" stroke="#b0601e" stroke-width="0.3" textLength="25.85" lengthAdjust="spacingAndGlyphs">+0.1</text>
<text x="324.42" y="66.88" font-family="Liberation Serif" font-size="17.50" font-weight="normal" font-style="italic" text-anchor="start" fill="#e81c1c">τ</text>
<text x="334.78" y="65.80" font-family="Liberation Sans" font-size="15.20" font-weight="normal" font-style="normal" text-anchor="start" fill="#e81c1c" stroke="#e81c1c" stroke-width="0.3" textLength="46.60" lengthAdjust="spacingAndGlyphs">= 72.7</text>
<text x="324.06" y="87.57" font-family="Liberation Serif" font-size="17.00" font-weight="normal" font-style="italic" text-anchor="start" fill="#e81c1c">β</text>
<text x="337.01" y="88.31" font-family="Liberation Sans" font-size="15.20" font-weight="normal" font-style="normal" text-anchor="start" fill="#e81c1c" stroke="#e81c1c" stroke-width="0.3" textLength="41.75" lengthAdjust="spacingAndGlyphs">=0.85</text>
<text x="378.61" y="88.21" font-family="Liberation Sans" font-size="13.00" font-weight="normal" font-style="normal" text-anchor="start" fill="#e81c1c" stroke="#e81c1c" stroke-width="0.3" textLength="34.95" lengthAdjust="spacingAndGlyphs">+0.03</text>
<text x="397.98" y="205.53" font-family="Liberation Serif" font-size="17.50" font-weight="normal" font-style="italic" text-anchor="start" fill="#2020d8">τ</text>
<text x="407.80" y="204.69" font-family="Liberation Sans" font-size="15.20" font-weight="normal" font-style="normal" text-anchor="start" fill="#2020d8" stroke="#2020d8" stroke-width="0.3" textLength="42.89" lengthAdjust="spacingAndGlyphs">=58.6</text>
<text x="396.86" y="227.03" font-family="Liberation Serif" font-size="17.00" font-weight="normal" font-style="italic" text-anchor="start" fill="#2020d8">β</text>
<text x="409.61" y="227.60" font-family="Liberation Sans" font-size="15.20" font-weight="normal" font-style="normal" text-anchor="start" fill="#2020d8" stroke="#2020d8" stroke-width="0.3" textLength="42.55" lengthAdjust="spacingAndGlyphs">=1.52</text>
<text x="451.31" y="227.26" font-family="Liberation Sans" font-size="12.00" font-weight="normal" font-style="normal" text-anchor="start" fill="#2020d8" stroke="#2020d8" stroke-width="0.3" textLength="36.08" lengthAdjust="spacingAndGlyphs">+0.06</text>
<text transform="translate(25.3,429.5) rotate(-90)" font-family="Liberation Sans" font-size="26.5" fill="#000" textLength="373.4" lengthAdjust="spacingAndGlyphs">Global Population (<tspan font-style="italic">millions</tspan>, 10<tspan font-size="17" dy="-10">6</tspan><tspan dy="10">)</tspan></text>
<text transform="translate(115.4,203.2) rotate(-90)" font-family="Liberation Sans" font-size="21" fill="#000" textLength="151.6" lengthAdjust="spacingAndGlyphs">Population (10<tspan font-size="14" dy="-8">6</tspan><tspan dy="8">)</tspan></text>
<text transform="translate(636,431.8) rotate(-90)" font-family="Liberation Serif" font-weight="bold" font-size="19" fill="#1a8c1a" textLength="147" lengthAdjust="spacingAndGlyphs">from Middle Ages</text>
<text transform="translate(656.5,389.9) rotate(-90)" font-family="Liberation Serif" font-weight="bold" font-size="19" fill="#1a8c1a" textLength="123.3" lengthAdjust="spacingAndGlyphs">to Present Days</text>
</svg>
</body></html>
